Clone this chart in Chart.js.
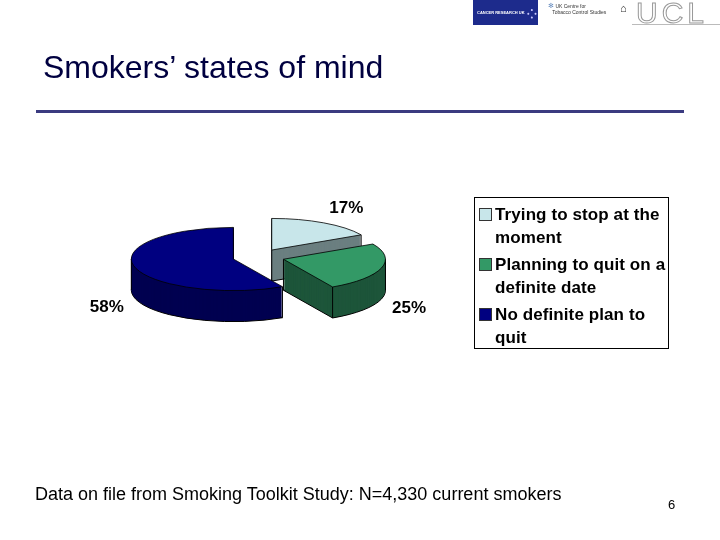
<!DOCTYPE html>
<html>
<head>
<meta charset="utf-8">
<script src="https://cdn.jsdelivr.net/npm/chart.js@4.4.1/dist/chart.umd.min.js"></script>
<style>
  body { margin: 0; width: 720px; height: 540px; position: relative; overflow: hidden; background: #fff;
         font-family: "Liberation Sans", Arial, sans-serif; }
  #slide { position: absolute; left: 0; top: 0; }
  .abs { position: absolute; white-space: nowrap; }
  #title { left: 43px; top: 49px; font-size: 32px; color: #000040; }
  #rule { left: 36px; top: 110px; width: 648px; height: 3px; background: #3b3b80; }
  #footer { left: 35px; top: 484px; font-size: 18px; color: #000; }
  #page { left: 668px; top: 497px; font-size: 13px; color: #000; }
  #legend { position: absolute; left: 474px; top: 197px; width: 193px; height: 150px; border: 1px solid #000; }
  .item { position: absolute; left: 0; }
  .sw { position: absolute; left: 4px; width: 11px; height: 11px; border: 1px solid #333; }
  .lt { position: absolute; left: 20px; width: 176px; font-size: 17px; font-weight: bold; line-height: 23px;
        white-space: normal; letter-spacing: 0.1px; }
  #cruk { left: 473px; top: 0; width: 65px; height: 25px; background: #1d2b8c; color: #fff; font-size: 4px; font-weight: bold; }
  #tcs { left: 548px; top: 3px; font-size: 5px; color: #333; line-height: 6px; }
  #ucl { left: 636px; top: -4px; font-size: 30px; color: #fff; -webkit-text-stroke: 1px #999; letter-spacing: 4px; }
</style>
</head>
<body>
<canvas id="slide" width="720" height="540"></canvas>

<div class="abs" id="cruk"><span style="position:absolute;left:4px;top:10px">CANCER RESEARCH UK</span><span style="position:absolute;left:54px;top:5px;font-size:12px;color:#c8c8ff">⁘</span></div>
<div class="abs" id="tcs"><span style="font-size:7px;color:#6b8fc0">✻</span> UK Centre for<br>&nbsp;&nbsp;&nbsp;Tobacco Control Studies</div>
<div class="abs" style="left:620px;top:2px;font-size:11px;color:#333">⌂</div>
<div class="abs" id="ucl">UCL</div>
<div class="abs" style="left:632px;top:24px;width:88px;height:1px;background:#bbb"></div>

<div class="abs" id="title">Smokers’ states of mind</div>
<div class="abs" id="rule"></div>
<div id="legend"></div>
<div class="abs" id="footer">Data on file from Smoking Toolkit Study: N=4,330 current smokers</div>
<div class="abs" id="page">6</div>

<script>
const categories = ["Trying to stop at the moment", "Planning to quit on a definite date", "No definite plan to quit"];
const shares = [17, 25, 58];
const topColors = ["#c8e6ea", "#339966", "#000080"];
const sideColors = ["#6b7f80", "#1d553a", "#000050"];

const SQUASH = 0.31; // vertical tilt of the pie
const DEPTH = 31;    // thickness in screen px
const EXPLODE = 26;  // slice pull-out in px

const mid = a => (a.startAngle + a.endAngle) / 2;

function piePath(ctx, a, ox, oy) {
  ctx.beginPath();
  ctx.moveTo(a.x + ox, a.y + oy);
  ctx.arc(a.x + ox, a.y + oy, a.outerRadius, a.startAngle, a.endAngle);
  ctx.closePath();
}

const pie3d = {
  id: "pie3d",
  beforeDatasetDraw(chart, args) {
    const ctx = chart.ctx;
    const arcs = chart.getDatasetMeta(args.index).data;
    const cy = arcs[0].y;
    const squash = () => { ctx.translate(0, cy * (1 - SQUASH)); ctx.scale(1, SQUASH); };
    const shift = a => [Math.cos(mid(a)) * EXPLODE, Math.sin(mid(a)) * EXPLODE];
    const toScreen = (x, y) => [x, cy + (y - cy) * SQUASH];

    const order = arcs.map((a, i) => i).sort((i, j) => Math.sin(mid(arcs[i])) - Math.sin(mid(arcs[j])));

    // side walls, back slices first
    order.forEach(i => {
      const a = arcs[i];
      const [ox, oy] = shift(a);
      ctx.fillStyle = sideColors[i];
      ctx.strokeStyle = "#000";
      ctx.lineWidth = 1;
      for (let d = DEPTH; d >= 1; d--) {
        ctx.save(); squash(); piePath(ctx, a, ox, oy + d / SQUASH); ctx.restore();
        ctx.fill();
        if (d === DEPTH) ctx.stroke();
      }
      // vertical edges
      const angles = [a.startAngle, a.endAngle];
      for (let k = -2; k <= 4; k++) {
        const t = k * Math.PI;
        if (t > a.startAngle && t < a.endAngle) angles.push(t);
      }
      const pts = [[a.x + ox, a.y + oy]].concat(angles.map(t =>
        [a.x + ox + a.outerRadius * Math.cos(t), a.y + oy + a.outerRadius * Math.sin(t)]));
      ctx.beginPath();
      pts.forEach(p => {
        const [sx, sy] = toScreen(p[0], p[1]);
        ctx.moveTo(sx, sy); ctx.lineTo(sx, sy + DEPTH);
      });
      ctx.stroke();
    });

    // top faces
    arcs.forEach(a => {
      const [ox, oy] = shift(a);
      ctx.save(); squash(); ctx.translate(ox, oy); a.draw(ctx); ctx.restore();
      ctx.save(); squash(); piePath(ctx, a, ox, oy); ctx.restore();
      ctx.strokeStyle = "#000"; ctx.lineWidth = 0.8; ctx.stroke();
    });
    return false;
  },
  afterDatasetsDraw(chart) {
    const ctx = chart.ctx;
    const arcs = chart.getDatasetMeta(0).data;
    const cy = arcs[0].y;
    const total = shares.reduce((s, v) => s + v, 0);
    ctx.save();
    ctx.font = "bold 17px 'Liberation Sans', Arial, sans-serif";
    ctx.fillStyle = "#000";
    arcs.forEach((a, i) => {
      const m = mid(a);
      const D = a.outerRadius + EXPLODE + 11;
      const c = Math.cos(m), s = Math.sin(m);
      const x = a.x + c * D;
      const y = cy + s * D * SQUASH + (s > 0 ? DEPTH : -3);
      ctx.textAlign = c > 0 ? "left" : "right";
      ctx.textBaseline = s > 0 ? "top" : "bottom";
      ctx.fillText(Math.round(shares[i] / total * 100) + "%", x, y);
    });
    ctx.restore();
  }
};

// legend
const legend = document.getElementById("legend");
const legendTops = [5, 55, 105];
categories.forEach((c, i) => {
  const item = document.createElement("div");
  item.className = "item";
  item.style.top = legendTops[i] + "px";
  item.innerHTML = '<div class="sw" style="top:5px;background:' + topColors[i] + '"></div><div class="lt"></div>';
  item.querySelector(".lt").textContent = c;
  legend.appendChild(item);
});

new Chart(document.getElementById("slide"), {
  type: "pie",
  data: {
    labels: categories,
    datasets: [{
      data: shares,
      backgroundColor: topColors,
      borderWidth: 0,
      clip: false
    }]
  },
  options: {
    responsive: false,
    animation: false,
    radius: 102,
    layout: { padding: { left: 100, right: 303, top: 157, bottom: 183 } },
    plugins: { legend: { display: false }, tooltip: { enabled: false } }
  },
  plugins: [pie3d]
});
</script>
</body>
</html>
